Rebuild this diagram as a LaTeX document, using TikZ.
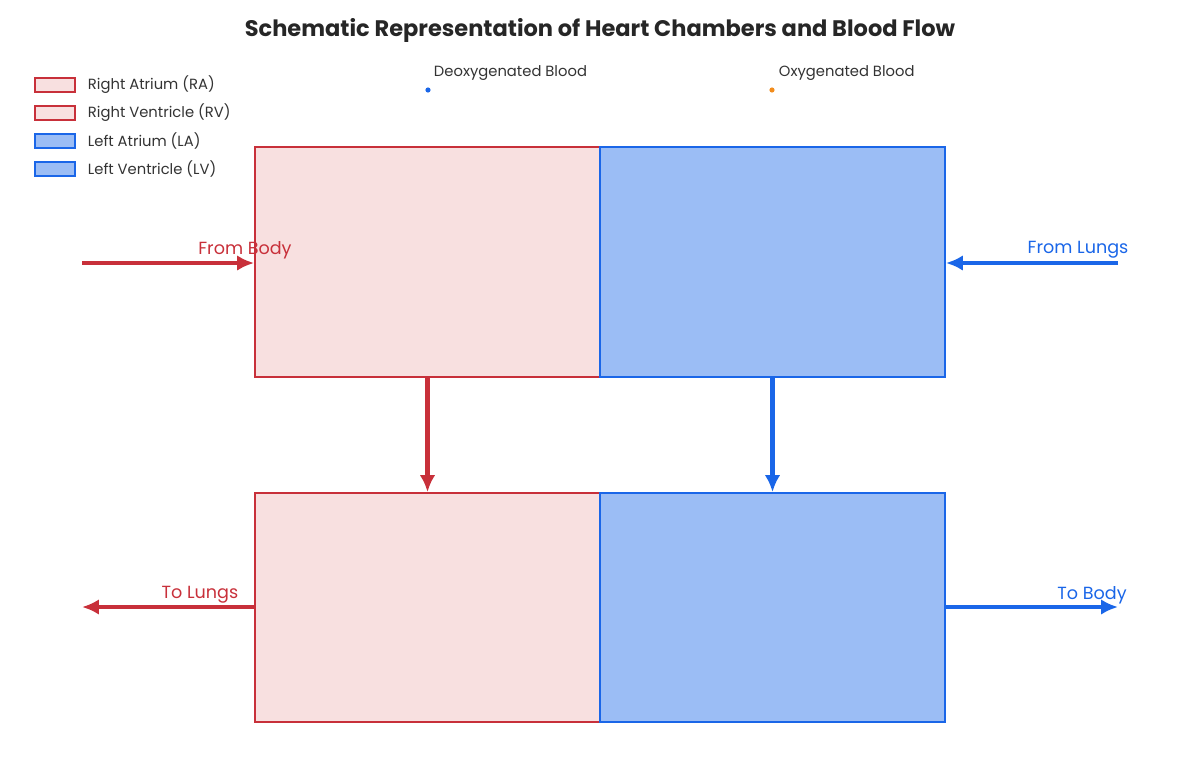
\documentclass[tikz,border=0pt]{standalone}
\usepackage{fontspec}
\setmainfont{Poppins}
\usetikzlibrary{arrows.meta}
\definecolor{rd}{HTML}{C8303A}
\definecolor{rdf}{HTML}{F8E0E0}
\definecolor{bl}{HTML}{1A66E8}
\definecolor{blf}{HTML}{9BBDF5}
\definecolor{org}{HTML}{F28C1C}
\begin{document}
\begin{tikzpicture}[x=0.025cm,y=-0.025cm,
 rbox/.style={draw=rd,fill=rdf,line width=1.3pt},
 bbox/.style={draw=bl,fill=blf,line width=1.3pt},
 rarr/.style={draw=rd,line width=3.5pt,-{Latex[length=12pt,width=11pt]}},
 barr/.style={draw=bl,line width=3.5pt,-{Latex[length=12pt,width=11pt]}},
 lbl/.style={font=\fontsize{12.5}{14}\selectfont},
 leg/.style={font=\fontsize{10.5}{12}\selectfont,anchor=west,text=black!80}]
\useasboundingbox (0,0) rectangle (1200,772);
\node[font=\bfseries\fontsize{16}{19}\selectfont,text=black!85] (title) at (600,30) {Schematic Representation of Heart Chambers and Blood Flow};
% legend
\foreach \y/\c/\f/\t/\n in {85/rd/rdf/Right Atrium (RA)/a,113/rd/rdf/Right Ventricle (RV)/b,141/bl/blf/Left Atrium (LA)/c,169/bl/blf/Left Ventricle (LV)/d}{
 \node[draw=\c,fill=\f,line width=1pt,minimum width=40*0.025cm,minimum height=14*0.025cm,inner sep=0pt] (lg\n) at (55,\y) {};
 \node[leg] (lt\n) at (83,\y) {\t};}
\node[circle,fill=bl,inner sep=1.3pt] (d1) at (428,90) {};
\node[leg] (d1t) at (429,73) {Deoxygenated Blood};
\node[circle,fill=org,inner sep=1.3pt] (d2) at (772,90) {};
\node[leg] (d2t) at (774,73) {Oxygenated Blood};
% chambers
\node[rbox,minimum width=345*0.025cm,minimum height=230*0.025cm,inner sep=0pt] (RA) at (427.5,262) {};
\node[bbox,minimum width=345*0.025cm,minimum height=230*0.025cm,inner sep=0pt] (LA) at (772.5,262) {};
\node[rbox,minimum width=345*0.025cm,minimum height=229*0.025cm,inner sep=0pt] (RV) at (427.5,607.5) {};
\node[bbox,minimum width=345*0.025cm,minimum height=229*0.025cm,inner sep=0pt] (LV) at (772.5,607.5) {};
\coordinate (fb) at (82,263);
\coordinate (fl) at (1118,263);
\coordinate (tl) at (82,607);
\coordinate (tb) at (1118,607);
\draw[rarr] (fb) -- (RA.west |- fb);
\draw[barr] (fl) -- (LA.east |- fl);
\draw[rarr] (RA.south) -- (RV.north);
\draw[barr] (LA.south) -- (LV.north);
\draw[rarr] (RV.west |- tl) -- (tl);
\draw[barr] (LV.east |- tb) -- (tb);
\node[lbl,text=rd] (l1) at (245,250) {From Body};
\node[lbl,text=bl] (l2) at (1078,250) {From Lungs};
\node[lbl,text=rd] (l3) at (200,595) {To Lungs};
\node[lbl,text=bl] (l4) at (1092,595) {To Body};
\end{tikzpicture}
\end{document}
